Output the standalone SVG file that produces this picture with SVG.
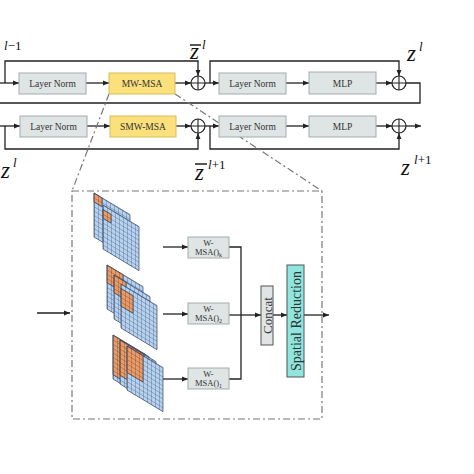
<svg xmlns="http://www.w3.org/2000/svg" width="474" height="474" viewBox="0 0 474 474">
<style>
.ln{fill:none;stroke:#222;stroke-width:1.3}
.gray{fill:#dfe4e4;stroke:#a4abab;stroke-width:1}
.yel{fill:#fbe07c;stroke:#d6bd5c;stroke-width:1}
.t{font-family:"Liberation Serif","Times New Roman",serif;fill:#333;text-anchor:middle}
.z{font-family:"Liberation Serif","Times New Roman",serif;font-style:italic;fill:#111;font-size:23px}
.sup{font-family:"Liberation Serif","Times New Roman",serif;fill:#111;font-size:13px}
.dash{fill:none;stroke:#777;stroke-width:1.2;stroke-dasharray:7 3 2 3}
.plus{fill:#fff;stroke:#222;stroke-width:1.2}
.lay{stroke:#2f3f5f;stroke-width:0.6}
</style>
<defs>
<marker id="arr" viewBox="0 0 10 10" refX="10" refY="5" markerWidth="6" markerHeight="6" markerUnits="userSpaceOnUse" orient="auto"><path d="M0,1 L10,5 L0,9 z" fill="#222"/></marker>
<pattern id="bc" patternUnits="userSpaceOnUse" width="4" height="4.4"><rect width="4" height="4.4" fill="#b6d2f0"/><path d="M0,0 H4 M0,0 V4.4" stroke="#33445f" stroke-width="0.6" fill="none"/></pattern>
<pattern id="oc" patternUnits="userSpaceOnUse" width="4" height="4.4"><rect width="4" height="4.4" fill="#f2995e"/><path d="M0,0 H4 M0,0 V4.4" stroke="#33445f" stroke-width="0.6" fill="none"/></pattern>
<g id="plus"><circle r="7" class="plus"/><path d="M-7,0 H7 M0,-7 V7" stroke="#222" stroke-width="1.1"/></g>
</defs>
<rect width="474" height="474" fill="#fff"/>

<g id="connectors">
<path class="ln" d="M0,83 H19" marker-end="url(#arr)"/>
<path class="ln" d="M5,83 V61 H198 V76" marker-end="url(#arr)"/>
<path class="ln" d="M86,83 H109" marker-end="url(#arr)"/>
<path class="ln" d="M175,83 H191" marker-end="url(#arr)"/>
<path class="ln" d="M205,83 H219" marker-end="url(#arr)"/>
<path class="ln" d="M210,83 V61 H399 V76" marker-end="url(#arr)"/>
<path class="ln" d="M286,83 H309" marker-end="url(#arr)"/>
<path class="ln" d="M376,83 H392" marker-end="url(#arr)"/>
<path class="ln" d="M406,83 H420 V103 H0"/>
<path class="ln" d="M0,126 H20" marker-end="url(#arr)"/>
<path class="ln" d="M5,126 V149 H198 V133" marker-end="url(#arr)"/>
<path class="ln" d="M87,126 H110" marker-end="url(#arr)"/>
<path class="ln" d="M176,126 H191" marker-end="url(#arr)"/>
<path class="ln" d="M205,126 H219" marker-end="url(#arr)"/>
<path class="ln" d="M210,126 V149 H399 V133" marker-end="url(#arr)"/>
<path class="ln" d="M286,126 H309" marker-end="url(#arr)"/>
<path class="ln" d="M376,126 H392" marker-end="url(#arr)"/>
<path class="ln" d="M406,126 H421" marker-end="url(#arr)"/>
<path class="dash" d="M109,94 L72,191"/>
<path class="dash" d="M175,94 L322,191"/>
<path class="ln" d="M37,313 H70" marker-end="url(#arr)"/>
<path class="ln" d="M163,247 H188" marker-end="url(#arr)"/>
<path class="ln" d="M163,314 H188" marker-end="url(#arr)"/>
<path class="ln" d="M163,379 H188" marker-end="url(#arr)"/>
<path class="ln" d="M229,247 H241 V379 H229"/>
<path class="ln" d="M229,315 H261" marker-end="url(#arr)"/>
<path class="ln" d="M273,315 H287" marker-end="url(#arr)"/>
<path class="ln" d="M304,315 H329" marker-end="url(#arr)"/>
</g>

<g id="ln1"><rect class="gray" x="19" y="73" width="67" height="21"/><text class="t" x="52.5" y="86.5" font-size="9.5">Layer Norm</text></g>
<g id="mwmsa"><rect class="yel" x="109" y="73" width="66" height="21"/><text class="t" x="142" y="86.5" font-size="9.5">MW-MSA</text></g>
<use id="add1" href="#plus" x="198" y="83"/>
<g id="ln2"><rect class="gray" x="219" y="73" width="67" height="21"/><text class="t" x="252.5" y="86.5" font-size="9.5">Layer Norm</text></g>
<g id="mlp1"><rect class="gray" x="309" y="72" width="67" height="22"/><text class="t" x="342.5" y="86.5" font-size="9.5">MLP</text></g>
<use id="add2" href="#plus" x="399" y="83"/>

<g id="ln3"><rect class="gray" x="20" y="116" width="67" height="21"/><text class="t" x="53.5" y="129.5" font-size="9.5">Layer Norm</text></g>
<g id="smwmsa"><rect class="yel" x="110" y="116" width="66" height="21"/><text class="t" x="143" y="129.5" font-size="9.5">SMW-MSA</text></g>
<use id="add3" href="#plus" x="198" y="126"/>
<g id="ln4"><rect class="gray" x="219" y="116" width="67" height="21"/><text class="t" x="252.5" y="129.5" font-size="9.5">Layer Norm</text></g>
<g id="mlp2"><rect class="gray" x="309" y="116" width="67" height="21"/><text class="t" x="342.5" y="129.5" font-size="9.5">MLP</text></g>
<use id="add4" href="#plus" x="399" y="126"/>

<g id="labels">
<text class="sup" x="4" y="50"><tspan font-style="italic">l</tspan>−1</text>
<text class="z" x="190" y="59">z</text><path d="M190,45 H201" stroke="#111" stroke-width="1.4"/><text class="sup" x="202" y="49" font-style="italic">l</text>
<text class="z" x="407" y="61">z</text><text class="sup" x="419" y="51" font-style="italic">l</text>
<text class="z" x="1" y="178">z</text><text class="sup" x="13" y="167" font-style="italic">l</text>
<text class="z" x="195" y="180">z</text><path d="M195,164 H207" stroke="#111" stroke-width="1.4"/><text class="sup" x="208" y="169"><tspan font-style="italic">l</tspan>+1</text>
<text class="z" x="401" y="175">z</text><text class="sup" x="414" y="164"><tspan font-style="italic">l</tspan>+1</text>
</g>

<g id="detail">
<rect class="dash" x="72" y="191" width="250" height="228"/>
</g>

<g id="grids">
<g transform="translate(94,193) skewY(31)"><rect width="36" height="44" fill="url(#bc)" class="lay"/><rect width="8" height="8.8" fill="url(#oc)" class="lay"/></g>
<g transform="translate(103,205) skewY(31)"><rect width="36" height="44" fill="url(#bc)" class="lay"/><rect y="4.4" width="8" height="8.8" fill="url(#oc)" class="lay"/></g>

<g transform="translate(107,265) skewY(31)"><rect width="36" height="44" fill="url(#bc)" class="lay"/><rect width="16" height="17.6" fill="url(#oc)" class="lay"/></g>
<g transform="translate(114,275) skewY(31)"><rect width="36" height="44" fill="url(#bc)" class="lay"/><rect width="12" height="17.6" fill="url(#oc)" class="lay"/></g>
<g transform="translate(121,284) skewY(31)"><rect width="36" height="44" fill="url(#bc)" class="lay"/><rect y="4.4" width="12" height="17.6" fill="url(#oc)" class="lay"/></g>

<g transform="translate(113,335) skewY(31)"><rect width="36" height="44" fill="url(#bc)" class="lay"/><rect width="32" height="39.6" fill="url(#oc)" class="lay"/></g>
<g transform="translate(120,340) skewY(31)"><rect width="36" height="44" fill="url(#bc)" class="lay"/><rect width="24" height="35.2" fill="url(#oc)" class="lay"/></g>
<g transform="translate(127,346) skewY(31)"><rect width="36" height="44" fill="url(#bc)" class="lay"/><rect width="16" height="26.4" fill="url(#oc)" class="lay"/></g>
</g>

<g id="wmsa1"><rect class="gray" x="188" y="237" width="41" height="21"/><text class="t" x="208.5" y="245.5" font-size="8.5">W-</text><text class="t" x="208.5" y="255" font-size="8.5">MSA()<tspan font-size="6" dy="1.5">k</tspan></text></g>
<g id="wmsa2"><rect class="gray" x="188" y="303" width="41" height="21"/><text class="t" x="208.5" y="311.5" font-size="8.5">W-</text><text class="t" x="208.5" y="321" font-size="8.5">MSA()<tspan font-size="6" dy="1.5">2</tspan></text></g>
<g id="wmsa3"><rect class="gray" x="188" y="368" width="41" height="21"/><text class="t" x="208.5" y="376.5" font-size="8.5">W-</text><text class="t" x="208.5" y="386" font-size="8.5">MSA()<tspan font-size="6" dy="1.5">1</tspan></text></g>

<g id="concat"><rect x="261" y="286" width="12" height="59" fill="#dfe4e4" stroke="#555" stroke-width="1"/><text class="t" transform="translate(271.5,315.5) rotate(-90)" font-size="13" fill="#222">Concat</text></g>
<g id="spatial"><rect x="287" y="265" width="17" height="112" fill="#8fe6de" stroke="#555" stroke-width="1"/><text class="t" transform="translate(300.5,321) rotate(-90)" font-size="14" fill="#222">Spatial Reduction</text></g>
</svg>
